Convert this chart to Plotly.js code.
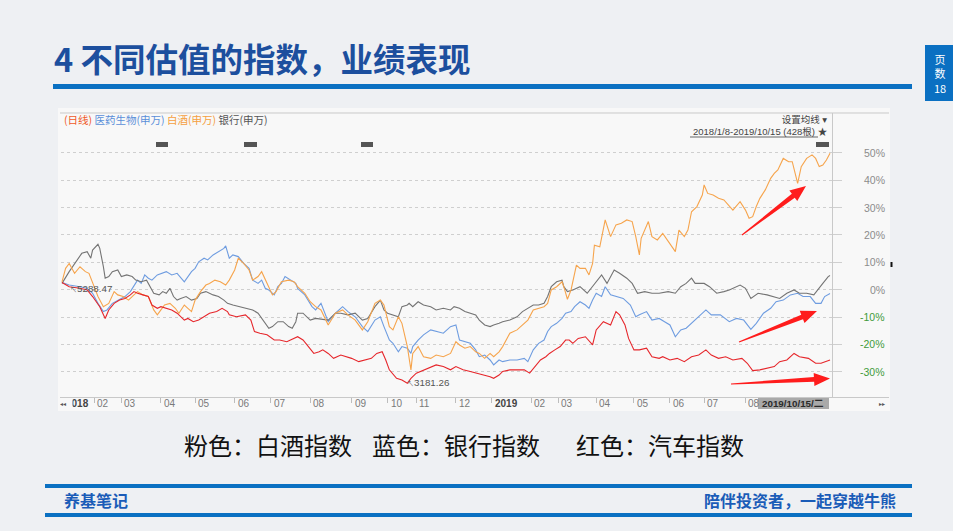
<!DOCTYPE html>
<html><head><meta charset="utf-8">
<script src="https://cdn.plot.ly/plotly-3.0.1.min.js"></script>
<style>html,body{margin:0;padding:0;background:#eef0f3;overflow:hidden}#chart{width:953px;height:531px}</style>
</head><body><div id="chart"></div>
<script>
// ---------- data (trading-day index from 2018/1/8, percent change) ----------
const seriesNames = ['医药生物(申万)', '白酒(申万)', '银行(申万)', '汽车指数'];
const grayX = [0,4,11,14,16,17,20,21,23,24,26,28,31,33,36,39,41,44,47,49,51,54,56,58,60,62,64,66,69,72,75,77,80,84,87,90,92,95,99,103,106,109,111,113,115,117,120,123,126,128,130,131,134,138,141,148,152,155,159,163,167,170,174,177,179,181,184,187,189,192,193,195,198,201,205,208,212,216,218,221,224,227,230,232,235,238,240,243,245,249,253,256,259,262,265,268,270,272,275,278,279,281,284,288,292,295,300,303,307,310,314,317,320,324,328,332,337,341,344,347,350,352,357,360,364,368,371,377,380,383,387,392,396,399,403,407,410,414,418,420,423,426,427];
const grayY = [2.3,6.6,13.3,13.9,11.5,14.5,16.6,15.1,8.4,4.2,4.8,6.6,7.2,4.8,5.4,4.8,3.5,2.9,3.5,1.1,-1.3,-1.9,-0.7,-1.3,0.5,-2.5,-3.8,-3.2,-2.5,-3.8,-3.2,-1.3,-0.7,-1.9,-2.5,-3.8,-5.0,-5.6,-6.2,-6.8,-7.4,-8.6,-10.5,-12.3,-14.1,-13.5,-11.7,-11.7,-13.5,-14.1,-11.7,-8.6,-8.6,-11.1,-10.5,-11.1,-8.6,-8.6,-9.2,-8.6,-11.1,-10.5,-6.2,-3.8,-7.4,-8.6,-9.2,-9.9,-6.2,-5.6,-5.0,-6.2,-4.4,-5.6,-6.2,-7.4,-6.8,-7.4,-6.2,-6.8,-8.0,-8.6,-9.2,-11.1,-12.9,-13.5,-12.9,-12.3,-11.7,-11.1,-9.9,-8.0,-6.8,-5.6,-5.6,-5.0,-2.5,1.1,2.9,3.5,1.1,-0.7,-0.1,1.1,-1.3,1.1,5.4,2.3,7.2,6.0,4.2,2.3,-1.3,-0.7,-1.3,-1.3,-0.7,-1.3,1.1,2.3,4.2,2.3,2.3,1.1,-1.3,-0.7,-0.1,1.7,0.5,-3.2,-1.3,-1.9,-2.5,-3.2,-1.3,-0.1,-1.3,-1.3,-1.9,-0.1,2.3,4.8,5.2];
const blueX = [0,4,10,14,17,20,23,25,28,31,35,38,41,42,44,46,48,50,53,55,58,61,64,68,70,72,74,76,79,81,84,87,90,91,93,95,98,101,104,106,109,111,113,115,118,120,122,124,127,130,131,135,139,141,144,148,152,156,159,163,167,170,174,177,179,182,184,187,189,192,194,195,198,201,205,208,212,216,219,221,224,227,230,232,235,238,240,243,245,249,253,257,259,262,265,268,270,272,275,278,280,283,285,288,291,293,295,297,300,302,305,308,312,316,319,321,325,328,332,335,338,341,344,347,350,354,358,361,366,371,375,379,383,386,390,394,397,401,405,409,412,416,419,422,424,427];
const blueY = [2.6,1.7,1.1,0.5,-1.3,-5.0,-8.0,-7.4,-5.0,-3.8,-2.5,-0.7,2.3,3.5,2.3,5.4,4.2,3.5,5.4,6.0,6.6,5.4,6.0,2.9,4.8,6.6,7.8,10.2,11.5,10.9,12.7,13.9,15.1,16.0,11.5,12.7,12.1,9.6,7.8,3.5,2.3,3.5,0.5,-0.1,-1.9,1.1,2.3,4.8,3.5,2.3,0.5,-1.9,-6.2,-7.4,-5.0,-11.7,-8.6,-6.2,-8.0,-9.9,-13.5,-15.3,-11.1,-9.9,-13.5,-18.4,-19.6,-22.7,-20.8,-21.4,-23.3,-20.8,-18.4,-16.5,-14.7,-15.3,-15.9,-13.5,-12.9,-18.4,-19.0,-19.6,-22.0,-24.5,-23.9,-25.7,-27.5,-25.7,-26.3,-25.7,-25.7,-25.1,-26.3,-22.0,-19.6,-18.4,-15.3,-13.5,-12.3,-10.5,-8.6,-8.0,-6.2,-4.4,-5.6,-6.8,-3.8,-1.3,-2.5,1.1,-1.9,-2.5,-3.2,-5.6,-9.9,-9.2,-8.0,-11.1,-10.5,-11.7,-12.9,-17.2,-14.7,-14.1,-12.3,-9.9,-7.4,-9.2,-9.2,-11.7,-10.5,-11.1,-14.5,-12.3,-8.6,-6.8,-4.4,-3.8,-1.9,-1.3,-2.5,-2.5,-5.0,-5.0,-2.5,-1.4];
const orangeX = [0,2,4,7,10,13,15,17,20,23,26,29,31,34,37,40,42,45,48,51,53,55,57,60,63,65,68,70,72,74,77,80,82,85,88,91,93,96,98,101,104,106,109,111,114,117,119,122,126,129,131,135,138,141,144,148,152,156,159,163,167,170,174,177,179,182,184,187,189,192,194,195,198,201,205,208,212,216,219,221,224,227,230,232,235,238,240,243,245,249,253,257,259,262,265,268,270,272,275,278,279,281,283,286,288,291,293,295,296,299,302,305,308,311,314,317,319,321,322,326,328,331,334,338,341,343,346,348,350,353,356,357,359,362,365,368,371,373,377,380,382,384,386,388,391,394,396,398,401,404,406,408,409,411,414,417,419,421,423,425,427];
const orangeY = [2.9,7.8,9.6,6.0,8.4,6.6,6.0,2.3,-2.5,-6.2,-5.0,-0.7,-1.9,-2.5,-3.8,-1.9,-0.7,-1.9,-2.5,-7.4,-9.2,-7.4,-5.6,-5.0,-6.8,-8.6,-5.6,-6.8,-8.0,-3.8,-0.7,1.7,2.3,3.5,2.9,1.7,3.5,7.2,11.5,9.6,7.2,3.5,4.8,6.6,2.3,-1.9,-0.7,2.9,3.5,2.9,1.1,-1.3,-4.4,-6.2,-7.4,-12.9,-8.6,-7.4,-9.2,-11.1,-14.7,-11.7,-5.0,-3.8,-5.6,-13.5,-14.7,-9.9,-12.3,-20.8,-29.3,-23.3,-20.8,-24.5,-25.1,-23.9,-24.5,-23.3,-19.0,-20.2,-21.4,-20.8,-22.7,-23.3,-25.1,-23.3,-24.5,-22.7,-20.8,-15.9,-14.7,-12.3,-11.1,-7.4,-6.8,-6.2,-5.0,-0.1,1.1,2.9,1.1,-3.5,-0.1,9.0,7.8,7.8,5.4,9.6,16.3,15.7,25.5,19.4,23.7,24.3,25.5,24.9,19.4,12.7,18.8,24.9,19.4,18.2,20.6,16.9,13.9,21.8,19.4,21.8,28.5,30.4,34.6,38.3,35.2,34.6,33.4,32.8,30.4,29.1,32.2,29.1,26.1,26.7,30.4,33.4,36.5,40.7,42.5,43.8,48.0,46.8,46.8,41.3,38.9,45.0,48.0,49.3,48.0,45.0,45.6,47.4,49.9];
const redX = [0,4,10,14,17,21,24,26,29,32,35,38,40,42,45,48,50,53,55,58,61,64,68,70,73,76,79,82,86,89,92,93,97,102,105,107,110,114,118,121,125,129,131,134,137,140,143,145,148,151,155,158,161,165,169,172,175,178,180,182,186,189,192,194,197,201,205,208,212,216,219,223,227,231,234,238,240,243,245,249,253,257,260,263,266,269,271,274,277,280,282,284,287,291,295,297,301,305,308,310,313,315,318,321,325,328,332,334,338,342,346,350,354,358,361,365,369,373,378,381,384,388,392,396,399,403,407,410,415,419,422,424,427];
const redY = [2.6,1.1,0.5,-0.1,-2.5,-6.2,-10.5,-7.4,-5.0,-3.8,-3.2,-1.9,-0.7,-1.3,-1.9,-2.5,-5.6,-6.8,-6.2,-6.8,-7.4,-8.6,-11.1,-10.5,-11.7,-11.1,-9.9,-8.6,-8.0,-6.8,-8.0,-9.2,-9.9,-9.2,-11.1,-15.3,-15.9,-16.5,-18.4,-18.4,-19.0,-17.8,-17.2,-18.4,-20.8,-23.3,-22.7,-22.0,-23.3,-25.1,-23.9,-24.5,-25.1,-26.3,-25.7,-25.1,-23.3,-22.7,-25.7,-29.3,-32.4,-33.0,-34.2,-32.4,-30.5,-29.3,-28.1,-27.5,-28.1,-29.3,-28.1,-29.3,-29.9,-30.5,-31.2,-31.8,-32.4,-31.2,-29.9,-29.3,-29.3,-29.3,-30.5,-28.1,-25.7,-24.5,-23.3,-22.0,-20.8,-18.4,-18.4,-19.6,-17.8,-17.2,-20.2,-14.7,-11.7,-12.9,-8.0,-9.2,-12.9,-17.8,-22.0,-22.0,-21.4,-24.5,-25.1,-24.5,-25.7,-25.1,-26.3,-24.5,-23.9,-22.0,-23.9,-25.1,-24.5,-25.7,-25.1,-26.9,-29.6,-29.3,-28.7,-28.1,-26.3,-25.7,-23.3,-24.5,-25.1,-26.9,-26.9,-26.3,-25.7];
const monthTickIdx = [18,33,55,74,96,116,138,161,181,197,219,239,261,276,297,318,338,357,380];
const monthTickText = ['02','03','04','05','06','07','08','09','10','11','12','2019','02','03','04','05','06','07','08'];
const yTicks = [-30,-20,-10,0,10,20,30,40,50];
const yTickText = ['-30%','-20%','-10%','0%','10%','20%','30%','40%','50%'];
const startLabel = {idx: 0, val: 2.6, text: '5288.47'};
const lowLabel = {idx: 192, val: -34.2, text: '3181.26'};
const lastDateText = '2019/10/15/二';
const rangeText = '2018/1/8-2019/10/15 (428根)';

// ---------- geometry helpers (pixels -> paper) ----------
const L = 61, R = 832, T = 140, B = 397, W = R - L, H = B - T;
const PX = p => (p - L) / W;
const PY = p => (B - p) / H;

const CJK = 'Noto Sans CJK SC';
const LAT = 'Liberation Sans, Arial, ' + CJK;

const traces = [
  {x: blueX, y: blueY, name: seriesNames[0], color: '#6e9ce0'},
  {x: grayX, y: grayY, name: seriesNames[2], color: '#747474'},
  {x: orangeX, y: orangeY, name: seriesNames[1], color: '#f6a44c'},
  {x: redX, y: redY, name: seriesNames[3], color: '#e6262b'}
].map(s => ({type: 'scatter', mode: 'lines', x: s.x, y: s.y, name: s.name,
  line: {color: s.color, width: 1.1}, hoverinfo: 'skip'}));

function rect(x0, y0, x1, y1, fill, layer) {
  return {type: 'rect', xref: 'paper', yref: 'paper', x0: PX(x0), x1: PX(x1), y0: PY(y0), y1: PY(y1),
    fillcolor: fill, line: {width: 0}, layer: layer || 'below'};
}
function hline(x0, x1, y, color) {
  return {type: 'line', xref: 'paper', yref: 'paper', x0: PX(x0), x1: PX(x1), y0: PY(y), y1: PY(y),
    line: {color: color, width: 1}, layer: 'below'};
}
function vline(x, y0, y1, color) {
  return {type: 'line', xref: 'paper', yref: 'paper', x0: PX(x), x1: PX(x), y0: PY(y0), y1: PY(y1),
    line: {color: color, width: 1}, layer: 'below'};
}
function arrowShape(x1, y1, x2, y2) {
  const dx = x2 - x1, dy = y2 - y1, len = Math.hypot(dx, dy);
  const ux = dx / len, uy = dy / len, nx = -uy, ny = ux;
  const hl = 16, hw = 6.5, sw = 2.4, tw = 0.5;
  const bx = x2 - ux * hl, by = y2 - uy * hl;
  const pts = [
    [x1 + nx * tw, y1 + ny * tw], [bx + nx * sw, by + ny * sw], [bx + nx * hw, by + ny * hw],
    [x2, y2], [bx - nx * hw, by - ny * hw], [bx - nx * sw, by - ny * sw], [x1 - nx * tw, y1 - ny * tw]
  ];
  const path = 'M ' + pts.map(p => PX(p[0]).toFixed(5) + ',' + PY(p[1]).toFixed(5)).join(' L ') + ' Z';
  return {type: 'path', xref: 'paper', yref: 'paper', path: path, fillcolor: '#ff1c1c', line: {width: 0}, layer: 'above'};
}

const shapes = [
  rect(58, 108, 890, 411, '#f8f8f8'),
  hline(60, 889, 113, '#c9c9c9'),
  vline(832.5, 113, 397, '#c9c9c9'),
  hline(60, 889, 397.5, '#c9c9c9'),
  rect(156, 142, 168, 147, '#555555'),
  rect(244, 142, 257, 147, '#555555'),
  rect(361, 142, 373, 147, '#555555'),
  rect(816, 142, 829, 147, '#555555'),
  rect(758, 398, 829, 409, '#a9a9a9', 'above'),
  rect(890.5, 262, 892.5, 267, '#111111'),
  hline(690, 818, 137, '#666666'),
  rect(53, 84, 912, 89, '#0a70c2'),
  rect(925, 45, 954, 101, '#0a70c2'),
  rect(45, 484, 912, 488, '#0a70c2'),
  rect(45, 513, 912, 517, '#0a70c2'),
  arrowShape(742, 235, 806, 186),
  arrowShape(739, 342, 817, 311),
  arrowShape(731, 384, 830, 378.5)
];

function ann(text, x, y, opts) {
  return Object.assign({text: text, xref: 'paper', yref: 'paper', x: PX(x), y: PY(y), showarrow: false,
    xanchor: 'left', yanchor: 'middle', font: {family: CJK, size: 10, color: '#444'}}, opts || {});
}

const annotations = [
  ann('<b>4 不同估值的指数，业绩表现</b>', 52, 57, {font: {family: CJK, size: 32.5, color: '#1c4f9e'}}),
  ann('页<br>数<br>18', 939.5, 73, {xanchor: 'center', align: 'center', font: {family: CJK, size: 11, color: '#ffffff'}}),
  ann('<span style="color:#f05a28">(日线)</span> <span style="color:#5b8fd8">' + seriesNames[0] +
      '</span> <span style="color:#f5a040">' + seriesNames[1] + '</span> <span style="color:#555555">' +
      seriesNames[2] + '</span>', 62, 119, {font: {family: CJK, size: 10.5, color: '#555'}}),
  ann('设置均线 ▾<br>' + rangeText + ' ★', 830, 125.5, {xanchor: 'right', align: 'right',
    font: {family: 'Liberation Sans, ' + CJK + ', DejaVu Sans', size: 9.5, color: '#444'}})
];
yTicks.forEach((v, i) => {
  annotations.push({text: yTickText[i], xref: 'paper', yref: 'y', x: PX(886.5), y: v, showarrow: false,
    xanchor: 'right', yanchor: 'middle',
    font: {family: LAT, size: 10.5, color: v < 0 ? '#3f9b3a' : '#8c8c8c'}});
});
monthTickIdx.forEach((d, i) => {
  const isYear = monthTickText[i].length === 4;
  annotations.push({text: isYear ? '<b>' + monthTickText[i] + '</b>' : monthTickText[i], xref: 'x', yref: 'paper',
    x: d, y: PY(403.5), xshift: 1, showarrow: false, xanchor: 'left', yanchor: 'middle',
    font: {family: LAT, size: 10, color: isYear ? '#444' : '#7a7a7a'}});
});
annotations.push(ann('<b>2018</b>', 64, 403.5, {font: {family: LAT, size: 10, color: '#444'}}));
annotations.push(ann('◂◂', 58, 403.5, {bgcolor: '#f8f8f8', borderpad: 1, width: 11, align: 'left',
  font: {family: 'DejaVu Sans', size: 6, color: '#555'}}));
annotations.push(ann('▸▸', 877, 403.5, {font: {family: 'DejaVu Sans', size: 6, color: '#555'}}));
annotations.push(ann('<b>' + lastDateText + '</b>', 760, 403.5, {font: {family: LAT, size: 9.8, color: '#2a2a2a'}}));
annotations.push({text: '<span style="font-size:7px">↖</span>' + startLabel.text, xref: 'x', yref: 'y',
  x: startLabel.idx, y: startLabel.val, xshift: 6, yshift: -6, showarrow: false, xanchor: 'left', yanchor: 'middle',
  font: {family: LAT, size: 9.8, color: '#555'}});
annotations.push({text: '<span style="font-size:7px">↖</span>' + lowLabel.text, xref: 'x', yref: 'y',
  x: lowLabel.idx, y: lowLabel.val, xshift: -2, yshift: 1, showarrow: false, xanchor: 'left', yanchor: 'middle',
  font: {family: LAT, size: 9.8, color: '#555'}});
annotations.push(ann('粉色：白酒指数', 182, 444, {font: {family: CJK, size: 24, color: '#111'}}));
annotations.push(ann('蓝色：银行指数', 370, 444, {font: {family: CJK, size: 24, color: '#111'}}));
annotations.push(ann('红色：汽车指数', 574, 444, {font: {family: CJK, size: 24, color: '#111'}}));
annotations.push(ann('<b>养基笔记</b>', 62, 500, {font: {family: CJK, size: 16, color: '#1a5cb8'}}));
annotations.push(ann('<b>陪伴投资者，一起穿越牛熊</b>', 898, 500, {xanchor: 'right', font: {family: CJK, size: 16, color: '#1a5cb8'}}));

const layout = {
  width: 953, height: 531,
  margin: {l: L, r: 953 - R, t: T, b: 531 - B, pad: 0},
  paper_bgcolor: '#eef0f3', plot_bgcolor: 'rgba(0,0,0,0)',
  showlegend: false,
  xaxis: {range: [-0.556, 428.1], showgrid: false, zeroline: false, showline: false,
    ticks: 'outside', ticklen: 5, tickwidth: 1, tickcolor: '#bdbdbd',
    tickmode: 'array', tickvals: monthTickIdx, showticklabels: false, fixedrange: true},
  yaxis: {side: 'right', range: [-39.23, 54.73], tickmode: 'array', tickvals: yTicks,
    showgrid: true, gridcolor: '#cfcfcf', griddash: 'dot', gridwidth: 1, zeroline: false,
    showline: false, ticks: 'outside', ticklen: 9, tickcolor: '#cfcfcf', showticklabels: false, fixedrange: true},
  shapes: shapes,
  annotations: annotations
};

Plotly.newPlot('chart', traces, layout, {displayModeBar: false, staticPlot: true});
</script>
</body></html>
